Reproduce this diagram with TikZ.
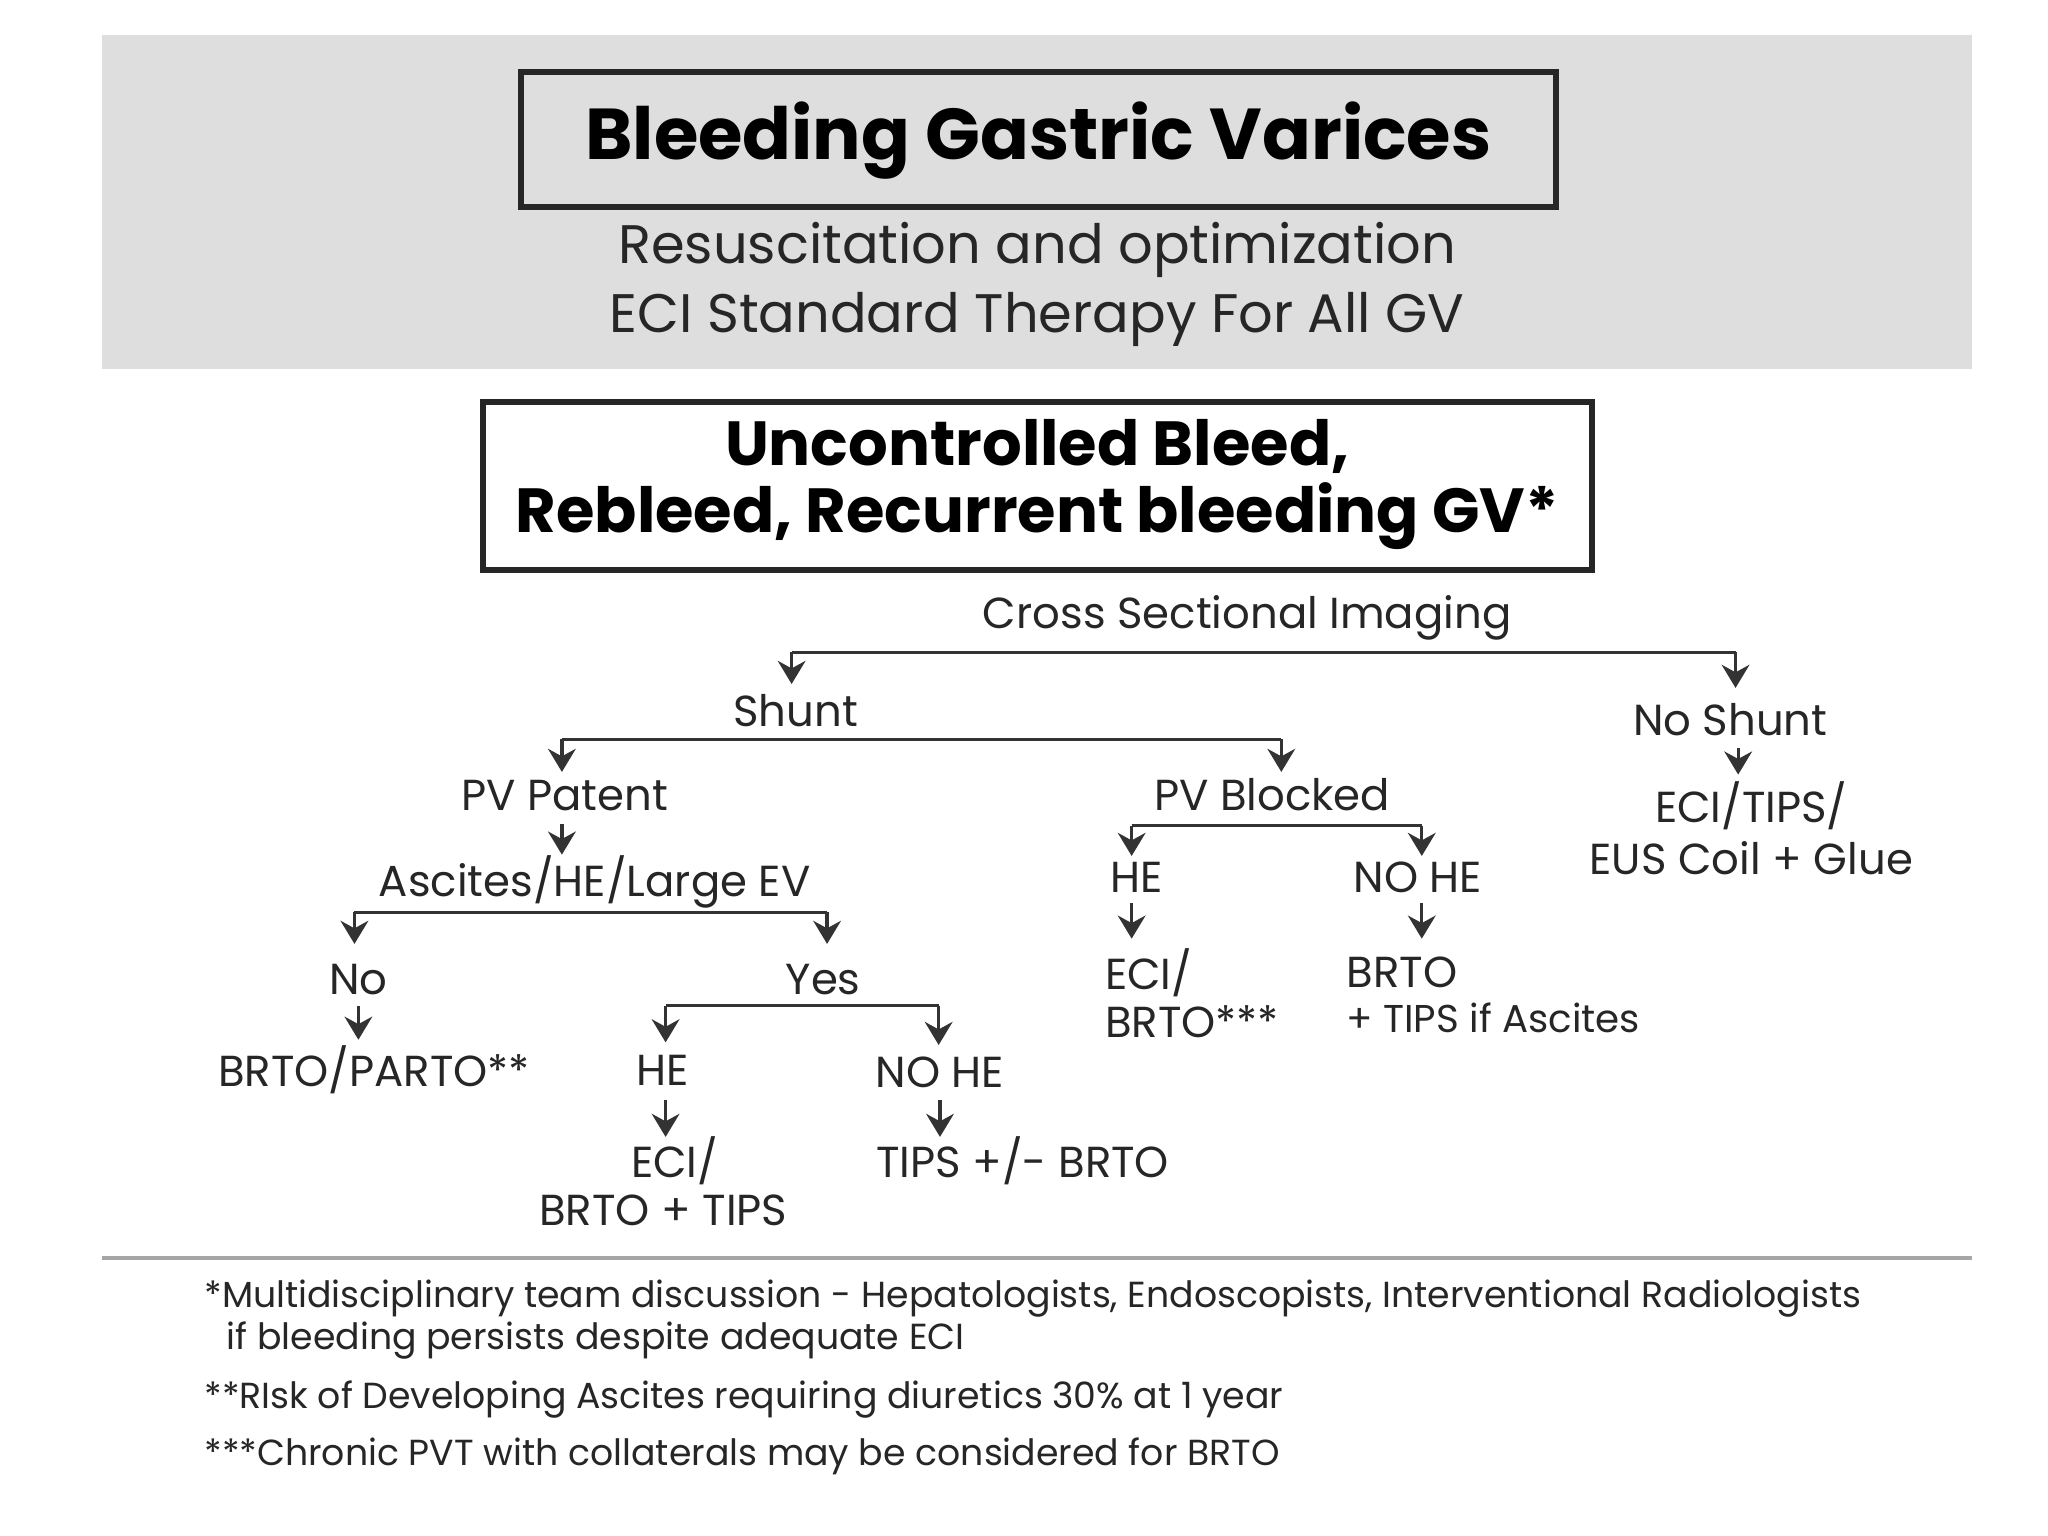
\documentclass[tikz,border=0pt]{standalone}
\usepackage{fontspec}
\setmainfont{Poppins}
\usetikzlibrary{arrows.meta}
\begin{document}
\begin{tikzpicture}[x=0.01cm,y=-0.01cm,
  t/.style={font=\fontsize{9.4}{11}\selectfont, text=black!85, inner sep=0pt},
  fn/.style={font=\fontsize{7.85}{10}\selectfont, text=black!85, inner sep=0pt, anchor=west},
  ln/.style={line width=0.7pt, draw=black!80},
  ar/.style={ln, -{Stealth[length=5pt,width=6pt]}}]
\useasboundingbox (0,0) rectangle (1560,1170);
\fill[white] (0,0) rectangle (1560,1170);
\fill[black!13] (78,27) rectangle (1502,281);
\draw[black!85,line width=1.3pt] (397,55) rectangle (1185,158);
\node[inner sep=0pt, font=\fontsize{15.6}{18}\selectfont\bfseries] (tt) at (791,107) {Bleeding Gastric Varices};
\node[t, font=\fontsize{11.75}{14}\selectfont] (s1) at (790,190) {Resuscitation and optimization};
\node[t, font=\fontsize{11.75}{14}\selectfont] (s2) at (790,243) {ECI Standard Therapy For All GV};
\draw[black!85,line width=1.3pt] (368,306) rectangle (1213,434);
\node[inner sep=0pt, font=\fontsize{13.5}{16}\selectfont\bfseries] (u1) at (790,340) {Uncontrolled Bleed,};
\node[inner sep=0pt, font=\fontsize{13.5}{16}\selectfont\bfseries] (u2) at (790,393) {Rebleed, Recurrent bleeding GV*};

\node[t] (csi) at (950,471) {Cross Sectional Imaging};
\node[t] (shunt) at (606,541) {Shunt};
\node[t] (noshunt) at (1318,548) {No Shunt};
\node[t] (eci1) at (1334,614) {ECI/TIPS/};
\node[t] (eci2) at (1334,654) {EUS Coil + Glue};
\node[t] (pvp) at (430,606) {PV Patent};
\node[t] (pvb) at (969,605) {PV Blocked};
\node[t] (asc) at (453,672) {Ascites/HE/Large EV};
\node[t] (no) at (273,746) {No};
\node[t] (yes) at (627,746) {Yes};
\node[t] (brto1) at (285,815) {BRTO/PARTO**};
\node[t] (he1) at (505,815) {HE};
\node[t] (nohe1) at (716,817) {NO HE};
\node[t,anchor=west] (ecia) at (480,884) {ECI/};
\node[t,anchor=west] (bt) at (410,922) {BRTO + TIPS};
\node[t] (tb) at (779,884) {TIPS +/- BRTO};
\node[t] (he2) at (866,668) {HE};
\node[t] (nohe2) at (1080,668) {NO HE};
\node[t,anchor=west] (ecib) at (841,741) {ECI/};
\node[t,anchor=west] (brto3) at (841,778) {BRTO***};
\node[t,anchor=west] (brto4) at (1025,741) {BRTO};
\node[t,anchor=west,font=\fontsize{8.4}{10}\selectfont] (tipsa) at (1025,775) {+ TIPS if Ascites};

\draw[ln] (603,497) -- (1322,497);
\draw[ar] (603,497) -- (603,521);
\draw[ar] (1322,497) -- (1322,524);
\draw[ln] (428,563) -- (976,563);
\draw[ar] (428,563) -- (428,588);
\draw[ar] (976,563) -- (976,588);
\draw[ar] (1324,570) -- (1324,590);
\draw[ar] (428,628) -- (428,651);
\draw[ln] (270,695) -- (630,695);
\draw[ar] (270,695) -- (270,719);
\draw[ar] (630,695) -- (630,719);
\draw[ar] (273,766) -- (273,792);
\draw[ln] (507,766) -- (715,766);
\draw[ar] (507,766) -- (507,794);
\draw[ar] (715,766) -- (715,796);
\draw[ar] (507,838) -- (507,866);
\draw[ar] (716,838) -- (716,866);
\draw[ln] (862,629) -- (1083,629);
\draw[ar] (862,629) -- (862,652);
\draw[ar] (1083,629) -- (1083,652);
\draw[ar] (862,688) -- (862,715);
\draw[ar] (1083,688) -- (1083,715);

\draw[black!35,line width=0.8pt] (78,958) -- (1502,958);
\node[fn] (f1) at (155,989) {*Multidisciplinary team discussion - Hepatologists, Endoscopists, Interventional Radiologists};
\node[fn] (f1b) at (172,1021) {if bleeding persists despite adequate ECI};
\node[fn] (f2) at (155,1066) {**RIsk of Developing Ascites requiring diuretics 30\% at 1 year};
\node[fn] (f3) at (155,1109) {***Chronic PVT with collaterals may be considered for BRTO};
\end{tikzpicture}
\end{document}
